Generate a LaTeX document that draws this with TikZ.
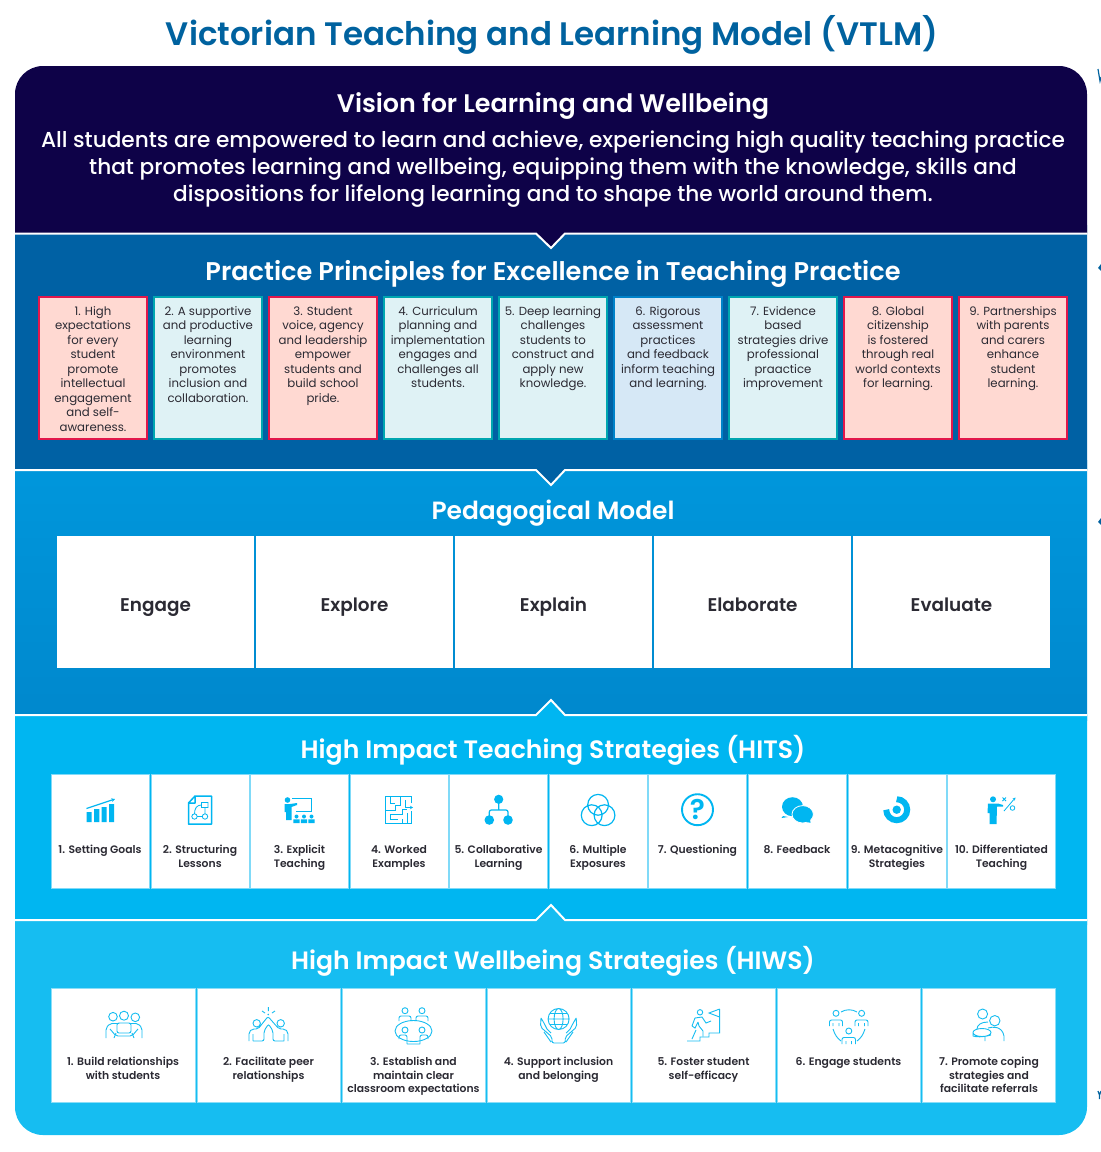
\documentclass[tikz,border=0pt]{standalone}
\usepackage{fontspec}
\setmainfont{Poppins}[BoldFont={Poppins SemiBold}]
\newfontfamily\medfont{Poppins Medium}
\usetikzlibrary{positioning, arrows.meta, shapes.geometric, calc}

\definecolor{titleblue}{HTML}{00629F}
\definecolor{visionblue}{HTML}{0E0248}
\definecolor{practiceblue}{HTML}{0061A4}
\definecolor{pedtop}{HTML}{0097DC}
\definecolor{pedbot}{HTML}{0088CD}
\definecolor{hitblue}{HTML}{00B6F1}
\definecolor{hiwblue}{HTML}{16BDF1}
\definecolor{darktext}{HTML}{2B2A33}
\definecolor{redline}{HTML}{E2174B}
\definecolor{redfill}{HTML}{FFD9D2}
\definecolor{tealline}{HTML}{00A6B0}
\definecolor{tealfill}{HTML}{DFF2F5}
\definecolor{bluline}{HTML}{0082C9}
\definecolor{blufill}{HTML}{D6E8F6}

\begin{document}
\begin{tikzpicture}[
    x=1pt, y=-1pt,
    title/.style={font=\fontsize{32.5}{36}\bfseries\selectfont, text=titleblue},
    head/.style={font=\fontsize{#1}{28}\bfseries\selectfont, text=white},
    body/.style={font=\fontsize{21.65}{27}\medfont\selectfont, text=white, align=center},
    seam/.style={draw=white, line width=2pt},
    redbox/.style={draw=redline, fill=redfill, line width=1.5pt, minimum width=108pt, minimum height=142pt, inner sep=0pt},
    tealbox/.style={draw=tealline, fill=tealfill, line width=1.5pt, minimum width=108pt, minimum height=142pt, inner sep=0pt},
    blubox/.style={draw=bluline, fill=blufill, line width=1.5pt, minimum width=108pt, minimum height=142pt, inner sep=0pt},
    ptext/.style={font=\fontsize{11.75}{14.5}\selectfont, text=darktext, align=center, inner sep=0pt},
    pedbox/.style={fill=white, minimum width=197pt, minimum height=132pt, inner sep=0pt, text height=22pt, text depth=4pt,
        font=\fontsize{18.4}{20}\bfseries\selectfont, text=darktext},
    hitbox/.style={fill=white, draw=hitblue!50, line width=.5pt, minimum height=114pt, inner sep=0pt},
    hiwbox/.style={fill=white, draw=hiwblue!50, line width=.5pt, minimum height=114.5pt, inner sep=0pt},
    card/.style={font=\fontsize{10.8}{13.3}\bfseries\selectfont, text=darktext, align=center, inner sep=0pt},
    hitline/.style={draw=hitblue, line width=1.2pt},
    hiwline/.style={draw=hiwblue, line width=.9pt}
]
\useasboundingbox (0,0) rectangle (1101,1152);

% Title
\node[title] (main) at (552,35) {Victorian Teaching and Learning Model (VTLM)};

% Bands
\begin{scope}
\clip[rounded corners=28pt] (15,66) rectangle (1087,1135);
\shade[top color=pedtop, bottom color=pedbot] (15,460) rectangle (1087,720);
\fill[practiceblue] (15,225) -- (1087,225) -- (1087,470) -- (565,470) -- (551,485) -- (536,470) -- (15,470) -- cycle;
\fill[visionblue] (15,60) -- (1087,60) -- (1087,233) -- (565,233) -- (551,248) -- (536,233) -- (15,233) -- cycle;
\fill[hitblue] (15,715) -- (536,715) -- (551,700) -- (565,715) -- (1087,715) -- (1087,925) -- (15,925) -- cycle;
\fill[hiwblue] (15,920) -- (536,920) -- (551,905) -- (565,920) -- (1087,920) -- (1087,1140) -- (15,1140) -- cycle;
\draw[seam] (15,233.5) -- (536,233.5) -- (551,248) -- (565,233.5) -- (1087,233.5);
\draw[seam] (15,470) -- (536,470) -- (551,485) -- (565,470) -- (1087,470);
\draw[seam] (15,715) -- (536,715) -- (551,700) -- (565,715) -- (1087,715);
\draw[seam] (15,920) -- (536,920) -- (551,905) -- (565,920) -- (1087,920);
\end{scope}

% Vision
\node[head=25.4] (vision) at (553,106) {Vision for Learning and Wellbeing};
\node[body] (visiontext) at (553,169) {All students are empowered to learn and achieve, experiencing high quality teaching practice\\
that promotes learning and wellbeing, equipping them with the knowledge, skills and\\
dispositions for lifelong learning and to shape the world around them.};

% Practice principles
\node[head=25.6] (practice) at (553,274) {Practice Principles for Excellence in Teaching Practice};
\foreach \i/\boxstyle/\txt in {
    1/redbox/{1. High\\expectations\\for every\\student\\promote\\intellectual\\engagement\\and self-\\awareness.},
    2/tealbox/{2. A supportive\\and productive\\learning\\environment\\promotes\\inclusion and\\collaboration.},
    3/redbox/{3. Student\\voice, agency\\and leadership\\empower\\students and\\build school\\pride.},
    4/tealbox/{4. Curriculum\\planning and\\implementation\\engages and\\challenges all\\students.},
    5/tealbox/{5. Deep learning\\challenges\\students to\\construct and\\apply new\\knowledge.},
    6/blubox/{6. Rigorous\\assessment\\practices\\and feedback\\inform teaching\\and learning.},
    7/tealbox/{7. Evidence\\based\\strategies drive\\professional\\praactice\\improvement},
    8/redbox/{8. Global\\citizenship\\is fostered\\through real\\world contexts\\for learning.},
    9/redbox/{9. Partnerships\\with parents\\and carers\\enhance\\student\\learning.}}{
    \node[\boxstyle] (p\i) at ({93+115*(\i-1)},368) {};
    \node[ptext, below=9.5pt of p\i.north] (pt\i) {\rule{0pt}{9.5pt}\txt};
}

% Pedagogical model
\node[head=24.9] (pedagogy) at (553,513) {Pedagogical Model};
\foreach \i/\txt in {1/Engage, 2/Explore, 3/Explain, 4/Elaborate, 5/Evaluate}{
    \node[pedbox] (m\i) at ({155.5+199*(\i-1)},602) {\txt};
}

% HITS
\node[head=25.15] (hits) at (553,750.5) {High Impact Teaching Strategies (HITS)};
\foreach \i/\cx/\bw/\txt in {
    1/100/98/{1. Setting Goals},
    2/200/98/{2. Structuring\\Lessons},
    3/299.5/98/{3. Explicit\\Teaching},
    4/399/98/{4. Worked\\Examples},
    5/498.5/98/{5. Collaborative\\Learning},
    6/598/98/{6. Multiple\\Exposures},
    7/697.5/98/{7. Questioning},
    8/797/98/{8. Feedback},
    9/897/98/{9. Metacognitive\\Strategies},
    10/1001.5/108/{10. Differentiated\\Teaching}}{
    \node[hitbox, minimum width=\bw pt] (h\i) at (\cx,831) {};
    \node[card, below=71pt of h\i.north] (hc\i) {\rule{0pt}{9pt}\txt};
}

% HITS icons
\fill[hitblue] (86.7,812) rectangle (91.7,822) (94,809) rectangle (99.3,822) (101.7,807) rectangle (106.7,822) (109,804) rectangle (114,822);
\draw[hitline, -{Stealth[length=3.5pt, width=3.5pt]}] (86.5,808.5) -- (115,799);
\draw[hitline, line width=1.5pt, line join=round] (195,796) -- (211.5,796) -- (211.5,824) -- (188.5,824) -- (188.5,803) -- cycle (195,796) -- (195,803) -- (188.5,803);
\draw[hitline, line width=.8pt] (201.5,802.5) rectangle (208,807.5) (194.5,816.5) circle (2.7) (205,816.5) circle (2.7) (205,807.5) -- (205,813.8) (197.2,816.5) -- (202.3,816.5) (194.5,813.8) .. controls (194.5,808) and (197,805) .. (201.5,805);
\fill[hitblue] (287.5,800) circle (2.8) (284.5,804) -- (290,804) -- (297,803) -- (297,805) -- (291.5,807) -- (291.5,820) -- (286,820) -- (286,812) -- (284.5,812) -- cycle;
\draw[hitline, line width=.9pt] (292,798.5) -- (311.5,798.5) -- (311.5,811.5) -- (296,811.5);
\foreach \ax in {296.5,304,311.5}{
    \fill[hitblue] (\ax,816.5) circle (2) ($(\ax,816.5)+(-3.2,2.8)$) rectangle ($(\ax,816.5)+(3.2,6.5)$);
}
\draw[hitline, line width=1pt] (411.5,803) -- (411.5,796) -- (385.5,796) -- (385.5,823) -- (411.5,823) -- (411.5,811)
    (390,796) -- (390,803) -- (395,803) (400,796) -- (400,805) -- (395,805) -- (395,810) -- (385.5,810)
    (405,800) -- (405,807.5) (390,814) -- (402,814) -- (402,809) -- (407,809) (390,814) -- (390,819) -- (398,819)
    (407,823) -- (407,813) (402,819) -- (402,823);
\draw[hitline, line width=1pt, -{Stealth[length=3pt, width=3.5pt]}] (405,807.5) -- (413,807.5);
\fill[hitblue] (498.7,799.3) circle (4.6) (489.3,820) circle (4.8) (508,820) circle (4.8);
\draw[hitline, rounded corners=2pt] (489.3,818) -- (489.3,810) -- (508,810) -- (508,818) (498.7,802) -- (498.7,810);
\draw[hitline] (598.1,804.8) circle (10.4) (591.7,815.2) circle (10.4) (604.5,815.2) circle (10.4);
\draw[hitline, line width=1.9pt] (697.5,809.7) circle (15.5);
\node[font=\fontsize{28}{28}\bfseries\selectfont, text=hitblue, inner sep=0pt] (qmark) at (697.5,809.7) {?};
\fill[hitblue] (783,816) -- (781.5,818) -- (788,817) -- cycle (792.5,806.7) ellipse (10.5 and 9.5);
\fill[hitblue, draw=white, line width=.8pt] (802.7,814.3) ellipse (10.7 and 8.7);
\fill[hitblue] (806,822) -- (810.5,822.8) -- (810,819) -- cycle;
\draw[hitblue, line width=6pt] (896.7,799.2) arc[start angle=-90, end angle=180, radius=10.5];
\fill[hitblue] (896.7,809.7) circle (4.2);
\fill[hitblue] (993,799.3) circle (3) (988,803.5) -- (998,803.5) -- (1003,805) -- (1003,806.5) -- (997,806.5) -- (996.5,824) -- (989.5,824) -- (989.5,813) -- (987.5,813) -- cycle;
\draw[hitline, line width=.8pt] (1002.5,797.5) -- (1006,801) (1006,797.5) -- (1002.5,801) (1012.5,808) circle (2.3);
\draw[hitline, line width=.8pt, -{Stealth[length=3pt, width=3pt]}] (1004,811) -- (1015.5,797.5);

% HIWS
\node[head=25.1] (hiws) at (553,961.5) {High Impact Wellbeing Strategies (HIWS)};
\foreach \i/\cx/\bw/\txt in {
    1/123/144/{1. Build relationships\\with students},
    2/268.5/143/{2. Facilitate peer\\relationships},
    3/413.5/143/{3. Establish and\\maintain clear\\classroom expectations},
    4/558.5/143/{4. Support inclusion\\and belonging},
    5/703.5/143/{5. Foster student\\self-efficacy},
    6/848.5/143/{6. Engage students},
    7/989/133/{7. Promote coping\\strategies and\\facilitate referrals}}{
    \node[hiwbox, minimum width=\bw pt] (w\i) at (\cx,1045) {};
    \node[card, below=69pt of w\i.north] (wc\i) {\rule{0pt}{9pt}\txt};
}

% HIWS icons
\draw[hiwline, rounded corners=2pt]
    (113,1016.7) circle (4.3) (124,1015.7) circle (4.5) (135.3,1017.3) circle (4.3)
    (106,1038) -- (106,1028) -- (110,1023.5) -- (119,1023.5) (142,1038) -- (142,1028) -- (138,1023.5) -- (129,1023.5)
    (117,1023) -- (131,1023) -- (131,1033) -- (117,1033) -- cycle
    (110,1029) -- (116,1036) -- (132,1036) -- (138,1029) (114,1038) -- (116,1033) (134,1038) -- (132,1033);
\draw[hiwline, rounded corners=2pt]
    (256.7,1023.3) circle (3.7) (280.7,1023.3) circle (3.7)
    (249,1041) -- (249,1032) -- (252,1029) -- (258,1029) -- (268,1016.5) -- (279,1029) -- (285,1029) -- (288,1032) -- (288,1041)
    (253,1041) -- (253,1034) (284,1041) -- (284,1034) (253,1041) -- (264,1041) -- (264,1031) -- (268.5,1024) -- (273,1031) -- (273,1041) -- (284,1041)
    (268.3,1007) -- (268.3,1011) (262,1011) -- (265,1013) (275,1011) -- (272,1013);
\fill[hiwblue] (268.3,1014.5) circle (.9);
\draw[hiwline, rounded corners=2pt]
    (405,1010.7) circle (3) (422,1010.7) circle (3) (405,1030) circle (3) (422,1030) circle (3)
    (399,1021) -- (399,1016) -- (411,1016) -- (411,1021) (416,1021) -- (416,1016) -- (428,1016) -- (428,1021)
    (407,1044) -- (407,1035) -- (399,1035) -- (399,1039) (420,1044) -- (420,1035) -- (428,1035) -- (428,1039) (407,1044) -- (420,1044);
\draw[hiwline] (413.5,1031) ellipse (18.5 and 10.5);
\draw[hiwline] (558.6,1019) circle (10.5) (558.6,1019) ellipse (4.5 and 10.5) (548,1019) -- (569,1019) (550,1013.5) -- (567,1013.5) (550,1024.5) -- (567,1024.5);
\draw[hiwline, rounded corners=2pt]
    (541,1018) -- (540.5,1027) -- (552,1037) -- (552,1043) -- (561,1043)
    (541,1018) -- (544,1023) -- (547,1029) (547,1029) -- (551,1033) (544,1032) -- (551,1042)
    (576.2,1018) -- (576.7,1027) -- (565.2,1037) -- (565.2,1043) -- (556,1043)
    (576.2,1018) -- (573.2,1023) -- (570.2,1029) (570.2,1029) -- (566.2,1033) (573,1032) -- (566,1042);
\draw[hiwline] (700,1012.3) circle (2.7) (719.6,1009) -- (709,1013) -- (719.6,1017) (719.6,1009) -- (719.6,1033) -- (709,1033) -- (709,1037) -- (700,1037) -- (700,1041) -- (687,1041)
    (692,1026) -- (695,1018) -- (702,1017) -- (706,1023) -- (711,1021) (692,1026) -- (695,1028) -- (698,1022) (698,1022) -- (699,1026) -- (703,1031) -- (703,1036) (696,1030) -- (692,1039);
\draw[hiwline, rounded corners=2pt]
    (836,1013.3) circle (3) (861.6,1013.3) circle (3) (848.8,1031) circle (3)
    (829.5,1026) -- (829.5,1020) -- (842.5,1020) -- (842.5,1026) (833,1026) -- (833,1023) (839,1026) -- (839,1023)
    (855,1026) -- (855,1020) -- (868,1020) -- (868,1026) (858.5,1026) -- (858.5,1023) (864.5,1026) -- (864.5,1023)
    (842,1044) -- (842,1037.5) -- (855.5,1037.5) -- (855.5,1044) (846,1044) -- (846,1041) (851.5,1044) -- (851.5,1041);
\draw[hiwline] (841,1012) .. controls (846,1009) and (852,1009) .. (857,1012) (833,1029) .. controls (835,1035) and (837,1038) .. (841,1041) (865,1029) .. controls (863,1035) and (861,1038) .. (857,1041);
\draw[hiwline] (982.6,1014) circle (5) (994.8,1020.7) circle (5.2) (982,1032.5) ellipse (9 and 4)
    (977,1029) .. controls (977,1025) and (981,1022) .. (988,1022) (988,1028) .. controls (993,1026.5) and (1002,1026) .. (1004,1036) -- (1004,1041)
    (985,1036) -- (985,1041) (973,1032.5) -- (973,1036) .. controls (976,1037) and (982,1037.5) .. (991,1035);

% Cut edge marks
\draw[titleblue, line width=1.2pt] (1098,69) -- (1100,81) -- (1101,77);
\fill[titleblue] (1098,268) -- (1101,264) -- (1101,271) -- cycle (1098,522) -- (1101,518) -- (1101,525) -- cycle;
\draw[titleblue, line width=1.2pt] (1098,1091) -- (1099.5,1095) -- (1101,1091) (1099.5,1095) -- (1099.5,1099);
\end{tikzpicture}
\end{document}
